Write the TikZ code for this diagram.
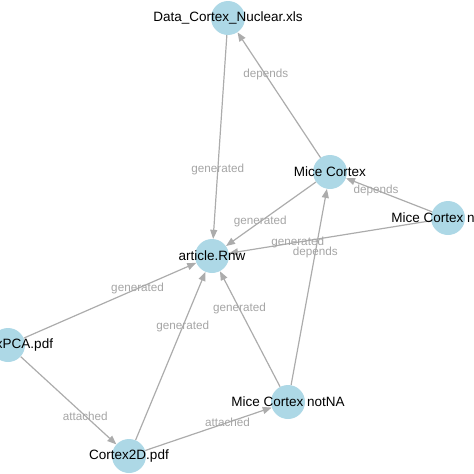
\documentclass[tikz,border=0pt]{standalone}
\usepackage{fontspec}
\setmainfont{Liberation Sans}
\usetikzlibrary{arrows.meta,backgrounds}
\definecolor{nodeblue}{RGB}{173,216,230}
\definecolor{edgegrey}{RGB}{172,172,172}
\definecolor{labgrey}{RGB}{165,165,165}
\tikzset{
  obj/.style    ={circle, fill=nodeblue, minimum size=34pt, inner sep=0pt},
  objtext/.style={font=\fontsize{13.5}{15}\selectfont, text=black, inner sep=0pt},
  rel/.style    ={-{Triangle[length=9pt,width=7pt]}, draw=edgegrey, line width=1.2pt},
  reltext/.style={font=\fontsize{11.7}{13}\selectfont, text=labgrey, inner sep=0pt, pos=.66},
}
\begin{document}
\begin{tikzpicture}[x=1pt,y=-1pt]
\useasboundingbox (0,0) rectangle (474,474);
\clip (0,0) rectangle (474,474);
\node[obj,label={[objtext]center:Data\_Cortex\_Nuclear.xls}] (data)    at (228,18)  {};
\node[obj,label={[objtext]center:Mice Cortex}]               (mice)    at (330,172) {};
\node[obj,label={[objtext]center:Mice Cortex notNA}]         (micena)  at (448,218) {};
\node[obj,label={[objtext]center:article.Rnw}]               (article) at (212,256) {};
\node[obj,label={[objtext]center:CortexPCA.pdf}]             (pca)     at (8,345)   {};
\node[obj,label={[objtext]center:Cortex2D.pdf}]              (twod)    at (129,456) {};
\node[obj,label={[objtext]center:Mice Cortex notNA}]         (notna)   at (288,402) {};
\begin{scope}[on background layer]
\draw[rel] (data)   -- (article) node[reltext] {generated};
\draw[rel] (mice)   -- (data)    node[reltext] {depends};
\draw[rel] (mice)   -- (article) node[reltext,pos=.62] {generated};
\draw[rel] (micena) -- (mice)    node[reltext,pos=.65] {depends};
\draw[rel] (micena) -- (article) node[reltext] {generated};
\draw[rel] (notna)  -- (mice)    node[reltext,pos=.675] {depends};
\draw[rel] (notna)  -- (article) node[reltext,pos=.675] {generated};
\draw[rel] (pca)    -- (article) node[reltext] {generated};
\draw[rel] (twod)   -- (article) node[reltext,pos=.675] {generated};
\draw[rel] (pca)    -- (twod)    node[reltext,pos=.675] {attached};
\draw[rel] (twod)   -- (notna)   node[reltext,pos=.65] {attached};
\end{scope}
\end{tikzpicture}
\end{document}
